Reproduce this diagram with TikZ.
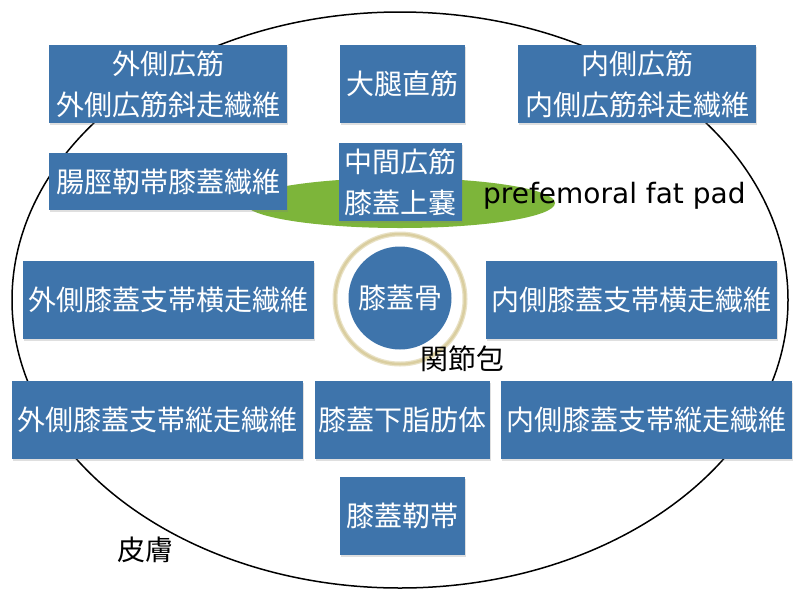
\documentclass[tikz,border=0pt]{standalone}
\usepackage{fontspec}
\setmainfont{Noto Sans CJK JP}
\newfontfamily\latinsans{DejaVu Sans}
\usetikzlibrary{shadows}
\definecolor{boxblue}{RGB}{62,116,171}
\definecolor{padgreen}{RGB}{125,181,58}
\definecolor{ringtan}{RGB}{218,206,160}
\tikzset{
  bluebox/.style={rectangle, fill=boxblue, text=white, align=center,
    inner sep=0pt, font=\fontsize{28}{41}\selectfont,
    drop shadow={shadow xshift=1pt, shadow yshift=-1.5pt, opacity=0.25}},
  plainlabel/.style={text=black, inner sep=0pt, font=\fontsize{28}{33}\selectfont},
}
\begin{document}
\begin{tikzpicture}[x=1pt,y=-1pt]
\useasboundingbox (0,0) rectangle (800,600);
\fill[white] (0,0) rectangle (800,600);
% skin outline
\draw[line width=1.5pt, black] (400,300) ellipse [x radius=388, y radius=288];
% prefemoral fat pad
\fill[padgreen] (400,203) ellipse [x radius=155, y radius=25];
% joint capsule ring
\draw[ringtan!60, line width=5pt] (400,299) circle [radius=65];
\draw[ringtan, line width=2.5pt] (400,299) circle [radius=65];
% patella
\node[circle, fill=boxblue, text=white, minimum size=103pt, inner sep=0pt,
  font=\fontsize{28}{33}\selectfont] (patella) at (400,298) {膝蓋骨};
% boxes
\node[bluebox, minimum width=238pt, minimum height=78pt] (vl) at (168,84) {外側広筋\\外側広筋斜走繊維};
\node[bluebox, minimum width=125pt, minimum height=78pt] (rf) at (402.5,84) {大腿直筋};
\node[bluebox, minimum width=238pt, minimum height=78pt] (vm) at (637,84) {内側広筋\\内側広筋斜走繊維};
\node[bluebox, minimum width=238pt, minimum height=57pt] (itb) at (168,181.5) {腸脛靭帯膝蓋繊維};
\node[bluebox, minimum width=123pt, minimum height=78pt] (vi) at (400.5,182) {中間広筋\\膝蓋上嚢};
\node[bluebox, minimum width=291pt, minimum height=78pt] (lptr) at (168.5,300) {外側膝蓋支帯横走繊維};
\node[bluebox, minimum width=291pt, minimum height=78pt] (mptr) at (631.5,300) {内側膝蓋支帯横走繊維};
\node[bluebox, minimum width=291pt, minimum height=78pt] (lplr) at (157.5,420) {外側膝蓋支帯縦走繊維};
\node[bluebox, minimum width=175pt, minimum height=78pt] (ifp) at (402.5,420) {膝蓋下脂肪体};
\node[bluebox, minimum width=291pt, minimum height=78pt] (mplr) at (646.5,420) {内側膝蓋支帯縦走繊維};
\node[bluebox, minimum width=125pt, minimum height=78pt] (pl) at (402.5,516) {膝蓋靭帯};
% labels
\node[plainlabel, font=\latinsans\fontsize{28}{33}\selectfont, anchor=base west] (pfp) at (483,203) {prefemoral fat pad};
\node[plainlabel] (cap) at (462,359) {関節包};
\node[plainlabel] (skin) at (145,550) {皮膚};
\end{tikzpicture}
\end{document}
